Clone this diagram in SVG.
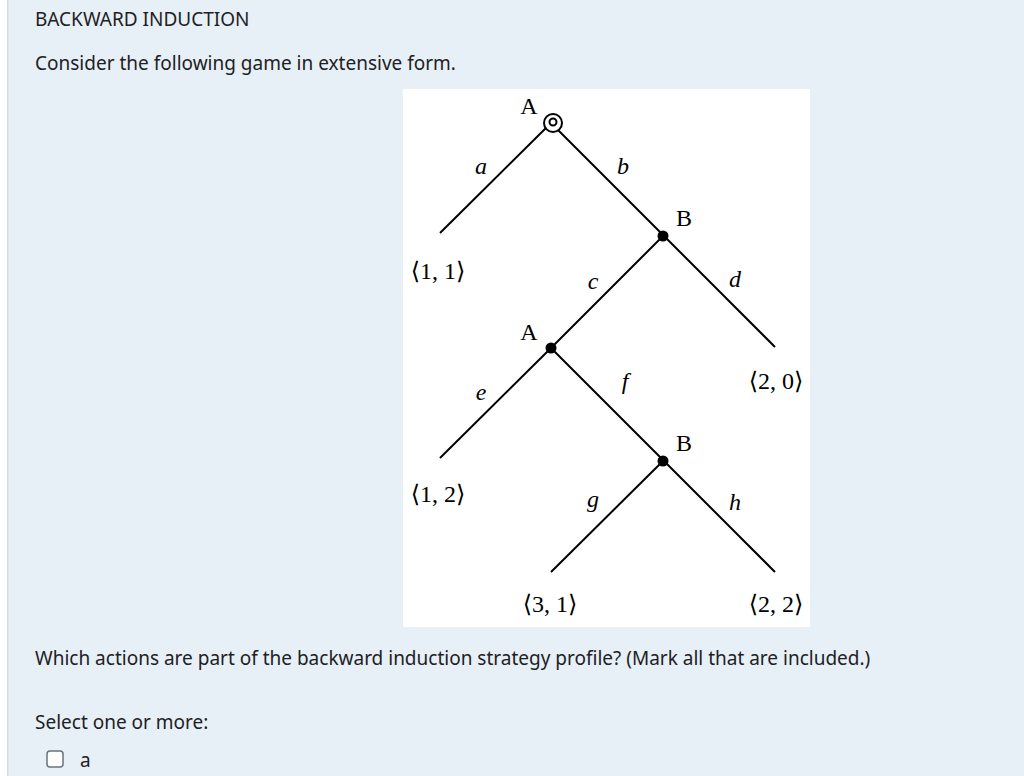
<svg xmlns="http://www.w3.org/2000/svg" width="1024" height="776" viewBox="0 0 1024 776">
<style>
.ui{font-family:"Noto Sans","Open Sans",sans-serif;font-size:19px;fill:#1d2125}
.tx{font-family:"Liberation Serif","DejaVu Serif",serif;font-size:24px;fill:#000;text-anchor:middle}
.it{font-style:italic}
.e{stroke:#000;stroke-width:2;fill:none}
</style>
<rect width="1024" height="776" fill="#e7f0f6"/>
<rect x="0" y="0" width="7" height="776" fill="#fff"/>
<rect x="7" y="0" width="1.5" height="776" fill="#cfdde8"/>
<text class="ui" x="35" y="26" font-size="18">BACKWARD INDUCTION</text>
<text class="ui" x="35" y="70">Consider the following game in extensive form.</text>
<rect x="403" y="89" width="407" height="538" fill="#fff"/>
<g id="connectors">
<line class="e" x1="551" y1="123" x2="440" y2="233"/>
<line class="e" x1="551" y1="123" x2="775" y2="347"/>
<line class="e" x1="663" y1="236" x2="551" y2="348"/>
<line class="e" x1="551" y1="348" x2="440" y2="458"/>
<line class="e" x1="551" y1="348" x2="775" y2="572"/>
<line class="e" x1="663" y1="461" x2="551" y2="572"/>
</g>
<g id="root"><circle cx="553" cy="123" r="9" fill="#fff" stroke="#000" stroke-width="2"/><circle cx="553" cy="122" r="3.5" fill="none" stroke="#000" stroke-width="2"/><text class="tx" x="529" y="114">A</text></g>
<g id="B1"><circle cx="663" cy="236" r="5.5"/><text class="tx" x="684" y="226">B</text></g>
<g id="A2"><circle cx="551" cy="348" r="5.5"/><text class="tx" x="529" y="340">A</text></g>
<g id="B2"><circle cx="663" cy="461" r="5.5"/><text class="tx" x="684" y="451">B</text></g>
<g id="labels">
<text class="tx it" x="481" y="174">a</text>
<text class="tx it" x="623" y="174">b</text>
<text class="tx it" x="593" y="289">c</text>
<text class="tx it" x="735" y="287">d</text>
<text class="tx it" x="481" y="400">e</text>
<text class="tx it" x="625" y="389">f</text>
<text class="tx it" x="593" y="507">g</text>
<text class="tx it" x="735" y="510">h</text>
</g>
<g id="leaves">
<text class="tx" x="438" y="279">⟨1, 1⟩</text>
<text class="tx" x="776" y="389">⟨2, 0⟩</text>
<text class="tx" x="438" y="502">⟨1, 2⟩</text>
<text class="tx" x="550" y="612">⟨3, 1⟩</text>
<text class="tx" x="776" y="612">⟨2, 2⟩</text>
</g>
<text class="ui" x="35" y="665">Which actions are part of the backward induction strategy profile? (Mark all that are included.)</text>
<text class="ui" x="35" y="729">Select one or more:</text>
<rect x="47" y="751" width="16" height="16" rx="3" fill="#fff" stroke="#6a737b" stroke-width="1.5"/>
<text class="ui" x="80" y="767">a</text>
</svg>
